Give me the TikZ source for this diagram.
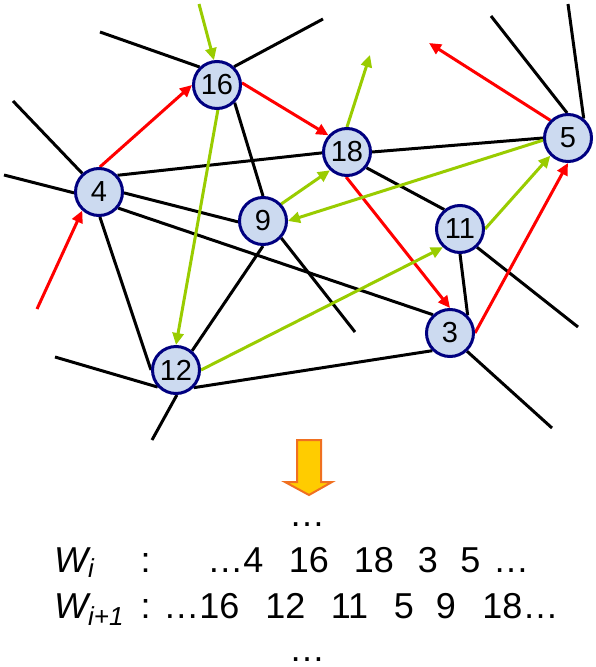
\documentclass[tikz,border=0pt]{standalone}
\usepackage{fontspec}
\setmainfont{Liberation Sans}
\usetikzlibrary{arrows.meta,backgrounds}
\definecolor{gr}{HTML}{99CC00}
\definecolor{rd}{HTML}{FF0000}
\definecolor{nv}{HTML}{000080}
\definecolor{nf}{HTML}{CCDAF0}
\definecolor{og}{HTML}{F07020}
\definecolor{gd}{HTML}{FFCC00}
\begin{document}
\begin{tikzpicture}[x=1pt,y=-1pt,
  vtx/.style={circle,draw=nv,fill=nf,line width=3pt,minimum size=47pt,inner sep=0pt,font=\fontsize{29}{29}\selectfont},
  blk/.style={line width=3pt,black},
  redarr/.style={line width=3pt,rd,-{Triangle[length=12pt,width=11pt]}},
  grnarr/.style={line width=3pt,gr,-{Triangle[length=12pt,width=11pt]}},
  seq/.style={anchor=base,inner sep=0pt,font=\fontsize{36}{36}\selectfont}]
\useasboundingbox (0,0) rectangle (596,667);
% vertices
\node[vtx] (n16) at (217,85) {16};
\node[vtx] (n4) at (99,192) {4};
\node[vtx] (n9) at (263,221) {9};
\node[vtx] (n18) at (347,152) {18};
\node[vtx] (n5) at (568,138) {5};
\node[vtx] (n11) at (460,229) {11};
\node[vtx] (n3) at (450,333) {3};
\node[vtx] (n12) at (176,370) {12};
% free ends
\coordinate (e16a) at (100,32);
\coordinate (e16b) at (323,19);
\coordinate (e4a) at (13,101);
\coordinate (e4b) at (4,175);
\coordinate (e9) at (355,332);
\coordinate (e5a) at (491,16);
\coordinate (e5b) at (568,4);
\coordinate (e11) at (578,327);
\coordinate (e3) at (552,428);
\coordinate (e12a) at (55,357);
\coordinate (e12b) at (152,440);
\coordinate (er4) at (37,309);
\coordinate (er5) at (429,43);
\coordinate (eg16) at (199,4);
\coordinate (eg18) at (370,55);
\begin{scope}[on background layer]
\draw[blk] (n16.134) -- (e16a);
\draw[blk] (n16.47) -- (e16b);
\draw[blk] (n16.315) -- (n9.90);
\draw[blk] (n4.132) -- (e4a);
\draw[blk] (n4.182) -- (e4b);
\draw[blk] (n4.42) -- (n18.182);
\draw[blk] (n4.358) -- (n9.182);
\draw[blk] (n4.320) -- (n3.133);
\draw[blk] (n4.272) -- (n12.180);
\draw[blk] (n9.317) -- (e9);
\draw[blk] (n9.270) -- (n12.50);
\draw[blk] (n18.0) -- (n5.180);
\draw[blk] (n18.321) -- (n11.129);
\draw[blk] (n5.92) -- (e5a);
\draw[blk] (n5.51) -- (e5b);
\draw[blk] (n11.270) -- (n3.45);
\draw[blk] (n11.313) -- (e11);
\draw[blk] (n3.313) -- (e3);
\draw[blk] (n3.225) -- (n12.315);
\draw[blk] (n12.223) -- (e12a);
\draw[blk] (n12.272) -- (e12b);
% red walk
\draw[redarr] (er4) -- (n4.228);
\draw[redarr] (n4.88) -- (n16.180);
\draw[redarr] (n16.5) -- (n18.138);
\draw[redarr] (n18.268) -- (n3.90);
\draw[redarr] (n3.0) -- (n5.270);
\draw[redarr] (n5.135) -- (er5);
% green walk
\draw[grnarr] (eg16) -- (n16.97);
\draw[grnarr] (n16.272) -- (n12.90);
\draw[grnarr] (n12.0) -- (n11.227);
\draw[grnarr] (n11.0) -- (n5.225);
\draw[grnarr] (n5.185) -- (n9.0);
\draw[grnarr] (n9.43) -- (n18.227);
\draw[grnarr] (n18.90) -- (eg18);
\end{scope}
% block arrow
\draw[draw=og,fill=gd,line width=2pt,line join=miter] (297,440) -- (321,440) -- (321,482) -- (332,482) -- (309,495) -- (285,482) -- (297,482) -- cycle;
% sequences
\node[seq] (d1) at (307,526) {…};
\node[seq,anchor=base west] (wi) at (54,572) {\itshape W\raisebox{-5pt}{\fontsize{26}{26}\selectfont i}};
\node[seq] (c1) at (145.5,572) {:};
\node[seq] (a1) at (235.5,572) {…4};
\node[seq] (a2) at (309,572) {16};
\node[seq] (a3) at (374,572) {18};
\node[seq] (a4) at (428,572) {3};
\node[seq] (a5) at (470.5,572) {5};
\node[seq] (a6) at (511,572) {…};
\node[seq,anchor=base west] (wi1) at (54,618) {\itshape W\raisebox{-7pt}{\fontsize{26}{26}\selectfont i+1}};
\node[seq] (c2) at (145.5,618) {:};
\node[seq] (b1) at (201.5,618) {…16};
\node[seq] (b2) at (285.5,618) {12};
\node[seq] (b3) at (349.5,618) {11};
\node[seq] (b4) at (404,618) {5};
\node[seq] (b5) at (446,618) {9};
\node[seq] (b6) at (520.5,618) {18…};
\node[seq] (d2) at (307,661) {…};
\end{tikzpicture}
\end{document}
